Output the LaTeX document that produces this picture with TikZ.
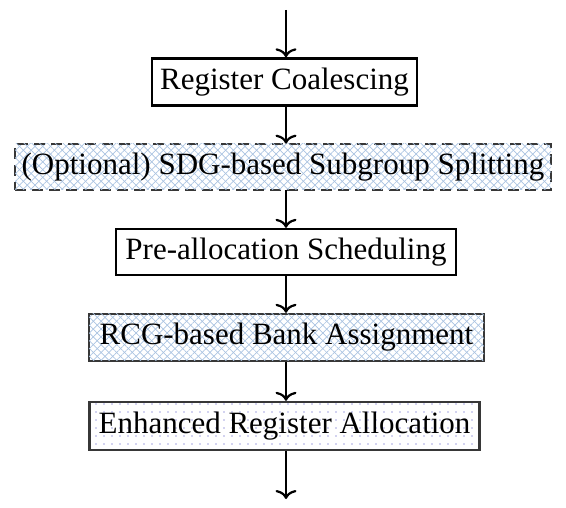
\documentclass[tikz,border=0pt]{standalone}
\usepackage{fontspec}
\setmainfont{Liberation Serif}
\usetikzlibrary{arrows.meta,patterns.meta}
\definecolor{hatchblue}{RGB}{170,195,225}
\definecolor{dotpurple}{RGB}{165,165,225}
\definecolor{boxgray}{RGB}{55,55,55}
\tikzset{
  stepbox/.style={draw=black, line width=2.4pt, inner sep=0pt, minimum height=47pt,
    font=\fontsize{31}{36}\selectfont, fill=white},
  crossbox/.style={stepbox, draw=boxgray, fill=white,
    pattern={Lines[angle=45,distance=5.5pt,line width=0.7pt]}, pattern color=hatchblue,
    postaction={pattern={Lines[angle=-45,distance=5.5pt,line width=0.7pt]}, pattern color=hatchblue}},
  dotbox/.style={stepbox, draw=boxgray,
    pattern={Dots[distance=8pt,radius=0.9pt]}, pattern color=dotpurple},
  flow/.style={line width=2.2pt, -{To[length=9pt,width=21pt]}}
}
\begin{document}
\begin{tikzpicture}[x=1pt,y=-1pt]
\useasboundingbox (0,0) rectangle (566,508);
\coordinate (top) at (286,10);
\node[stepbox, minimum width=265pt] (rc) at (284.5,82) {Register Coalescing};
\node[crossbox, dashed, dash pattern=on 11pt off 6pt, minimum width=536pt, minimum height=46pt] (sdg) at (283,167) {(Optional) SDG-based Subgroup Splitting};
\node[stepbox, minimum width=340pt, minimum height=46pt] (pre) at (286,252) {Pre-allocation Scheduling};
\node[crossbox, minimum width=395pt] (rcg) at (286.5,337.5) {RCG-based Bank Assignment};
\node[dotbox, minimum width=390pt, minimum height=48pt] (era) at (284.5,426) {Enhanced Register Allocation};
\coordinate (bot) at (286,499);
\draw[flow] (top) -- (top |- rc.north);
\draw[flow] (top |- rc.south) -- (top |- sdg.north);
\draw[flow] (top |- sdg.south) -- (top |- pre.north);
\draw[flow] (top |- pre.south) -- (top |- rcg.north);
\draw[flow] (top |- rcg.south) -- (top |- era.north);
\draw[flow] (top |- era.south) -- (bot);
\end{tikzpicture}
\end{document}
